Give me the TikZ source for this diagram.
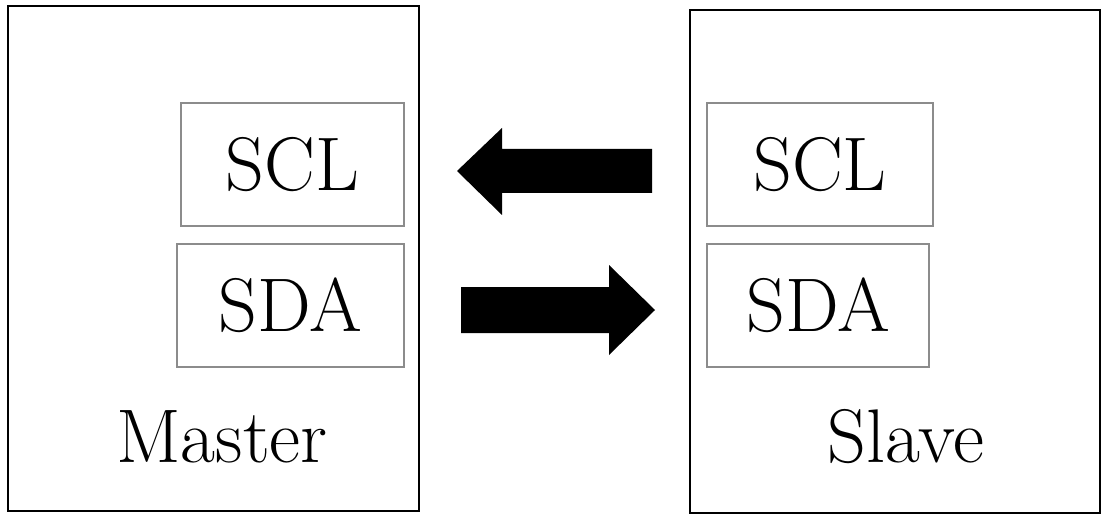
\documentclass[tikz,border=0pt]{standalone}
\begin{document}
\begin{tikzpicture}[x=1pt,y=-1pt,
  outer/.style={draw=black,line width=2pt,fill=white,minimum width=#1,inner sep=0pt},
  sig/.style={draw=black!45,line width=2pt,inner sep=0pt,minimum height=123pt,font=\fontsize{76}{80}\selectfont},
  lbl/.style={anchor=base,inner sep=0pt,font=\fontsize{76}{80}\selectfont},
  bigarrow/.style={fill=black,draw=none}]
\useasboundingbox (0,0) rectangle (1110,521);
\node[outer=411pt,minimum height=505pt] (master) at (213.5,258.5) {};
\node[outer=410pt,minimum height=503pt] (slave) at (895,261.5) {};
\node[sig,minimum width=223pt] (mscl) at (292.5,164.5) {SCL};
\node[sig,minimum width=227pt] (msda) at (290.5,305.5) {SDA};
\node[sig,minimum width=226pt] (sscl) at (820,164.5) {SCL};
\node[sig,minimum width=222pt] (ssda) at (818,305.5) {SDA};
\node[lbl] (mlab) at (222,462) {Master};
\node[lbl] (slab) at (906,462) {Slave};
\fill[bigarrow] (652,149) -- (502,149) -- (502,128) -- (457,171) -- (502,215) -- (502,193) -- (652,193) -- cycle;
\fill[bigarrow] (461,287) -- (609,287) -- (609,265) -- (655,310) -- (609,355) -- (609,333) -- (461,333) -- cycle;
\end{tikzpicture}
\end{document}
